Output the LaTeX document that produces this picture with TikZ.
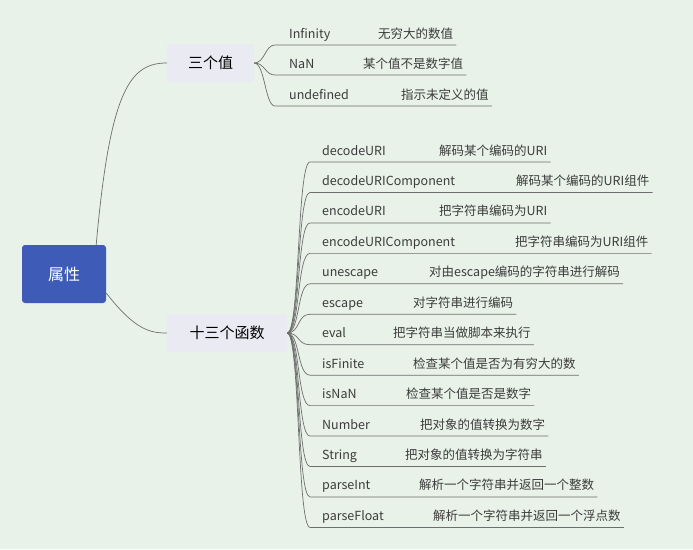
\documentclass[tikz,border=0pt]{standalone}
\usepackage{fontspec}
\setmainfont{Noto Sans CJK SC}
\definecolor{rootblue}{RGB}{63,91,184}
\definecolor{branchbg}{RGB}{234,234,242}
\definecolor{paper}{RGB}{232,242,233}
\definecolor{leaftext}{RGB}{60,60,60}
\definecolor{linkgray}{RGB}{110,110,110}
\begin{document}
\begin{tikzpicture}[x=1pt,y=-1pt,
  rootbox/.style={fill=rootblue,rounded corners=3pt,
    minimum width=84pt,minimum height=58pt,text=white,font=\fontsize{16}{18}\selectfont},
  branchbox/.style={fill=branchbg,rounded corners=2pt,
    minimum height=38pt,font=\fontsize{15}{17}\selectfont},
  leaf/.style={anchor=base west,inner sep=0pt,font=\fontsize{12.5}{14}\selectfont,text=leaftext},
  link/.style={draw=linkgray,line width=0.7pt}]
  \fill[paper] (0,0) rectangle (693,549);

  \node[rootbox] (root) at (64,274) {属性};
  \node[branchbox,minimum width=87pt] (vals) at (210.5,63) {三个值};
  \node[branchbox,minimum width=120pt] (funcs) at (227,333) {十三个函数};

  \draw[link] (root.north east) ++(-10,0) coordinate (r1)
    (r1) .. controls (110,90) and (130,63) .. (vals.west);
  \draw[link] (root.east) ++(0,19) coordinate (r2)
    (r2) .. controls (135,330) and (150,333) .. (funcs.west);

  % three values
  \foreach \nm/\cn/\cx/\ly [count=\i] in {Infinity/无穷大的数值/378/45,NaN/某个值不是数字值/363/75,undefined/指示未定义的值/401/106}{
    \node[leaf] (vk\i) at (289,\ly-7) {\nm};
    \node[leaf] (vd\i) at (\cx,\ly-7) {\cn};
    \coordinate (vs\i) at (275,\ly);
    \coordinate (ve\i) at ([xshift=3pt]vd\i.east |- vs\i);
    \draw[link] (vals.east) .. controls (265,63) and (265,\ly) .. (vs\i) -- (ve\i);
  }

  % thirteen functions
  \foreach \nm/\cn/\cx [count=\i] in {
    decodeURI/解码某个编码的URI/439,
    decodeURIComponent/解码某个编码的URI组件/516,
    encodeURI/把字符串编码为URI/439,
    encodeURIComponent/把字符串编码为URI组件/515,
    unescape/对由escape编码的字符串进行解码/429,
    escape/对字符串进行编码/413,
    eval/把字符串当做脚本来执行/393,
    isFinite/检查某个值是否为有穷大的数/413,
    isNaN/检查某个值是否是数字/406,
    Number/把对象的值转换为数字/420,
    String/把对象的值转换为字符串/405,
    parseInt/解析一个字符串并返回一个整数/419,
    parseFloat/解析一个字符串并返回一个浮点数/433}{
    \pgfmathsetmacro{\ly}{162+30.45*(\i-1)}
    \node[leaf] (fk\i) at (322,\ly-7) {\nm};
    \node[leaf] (fd\i) at (\cx,\ly-7) {\cn};
    \coordinate (fs\i) at (310,\ly);
    \coordinate (fe\i) at ([xshift=3pt]fd\i.east |- fs\i);
    \draw[link] (funcs.east) .. controls (300,333) and (297,\ly) .. (fs\i) -- (fe\i);
  }
\end{tikzpicture}
\end{document}
